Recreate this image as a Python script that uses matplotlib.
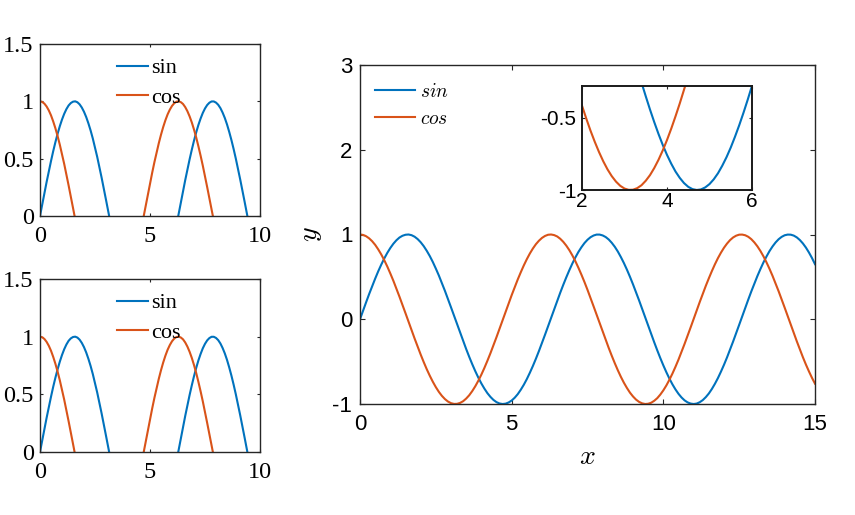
import numpy as np
import matplotlib
matplotlib.use('Agg')
import matplotlib.pyplot as plt

plt.rcParams['mathtext.fontset'] = 'cm'
plt.rcParams['axes.unicode_minus'] = False

# curves, x from 0 to 15 in steps of 0.1
x = [round(i * 0.1, 1) for i in range(151)]
y_sin = [0.000, 0.100, 0.199, 0.296, 0.389, 0.479, 0.565, 0.644, 0.717, 0.783,
         0.841, 0.891, 0.932, 0.964, 0.985, 0.997, 1.000, 0.992, 0.974, 0.946,
         0.909, 0.863, 0.808, 0.746, 0.676, 0.598, 0.516, 0.427, 0.335, 0.239,
         0.141, 0.042, -0.058, -0.158, -0.256, -0.351, -0.443, -0.530, -0.612, -0.688,
         -0.757, -0.818, -0.872, -0.916, -0.952, -0.978, -0.994, -1.000, -0.996, -0.982,
         -0.959, -0.926, -0.884, -0.832, -0.773, -0.706, -0.631, -0.551, -0.465, -0.374,
         -0.279, -0.182, -0.083, 0.017, 0.117, 0.215, 0.312, 0.405, 0.494, 0.578,
         0.657, 0.729, 0.794, 0.850, 0.899, 0.938, 0.968, 0.988, 0.999, 0.999,
         0.989, 0.970, 0.941, 0.902, 0.855, 0.799, 0.734, 0.663, 0.585, 0.501,
         0.412, 0.319, 0.223, 0.125, 0.025, -0.075, -0.174, -0.272, -0.367, -0.458,
         -0.544, -0.625, -0.700, -0.768, -0.828, -0.880, -0.923, -0.957, -0.981, -0.995,
         -1.000, -0.995, -0.979, -0.954, -0.919, -0.876, -0.823, -0.762, -0.694, -0.618,
         -0.537, -0.450, -0.358, -0.263, -0.166, -0.066, 0.034, 0.133, 0.232, 0.328,
         0.420, 0.509, 0.592, 0.670, 0.740, 0.804, 0.859, 0.906, 0.944, 0.972,
         0.991, 0.999, 0.998, 0.987, 0.966, 0.935, 0.895, 0.846, 0.788, 0.723, 0.650]
y_cos = [1.000, 0.995, 0.980, 0.955, 0.921, 0.878, 0.825, 0.765, 0.697, 0.622,
         0.540, 0.454, 0.362, 0.267, 0.170, 0.071, -0.029, -0.129, -0.227, -0.323,
         -0.416, -0.505, -0.589, -0.666, -0.737, -0.801, -0.857, -0.904, -0.942, -0.971,
         -0.990, -0.999, -0.998, -0.987, -0.967, -0.936, -0.897, -0.848, -0.791, -0.726,
         -0.654, -0.575, -0.490, -0.401, -0.307, -0.211, -0.112, -0.012, 0.087, 0.187,
         0.284, 0.378, 0.469, 0.554, 0.635, 0.709, 0.776, 0.835, 0.886, 0.927,
         0.960, 0.983, 0.997, 1.000, 0.993, 0.977, 0.950, 0.914, 0.869, 0.816,
         0.754, 0.685, 0.608, 0.526, 0.439, 0.347, 0.251, 0.153, 0.054, -0.046,
         -0.146, -0.244, -0.339, -0.431, -0.519, -0.602, -0.679, -0.749, -0.811, -0.866,
         -0.911, -0.948, -0.975, -0.992, -1.000, -0.997, -0.985, -0.962, -0.931, -0.889,
         -0.839, -0.781, -0.714, -0.641, -0.561, -0.476, -0.385, -0.291, -0.194, -0.096,
         0.004, 0.104, 0.203, 0.300, 0.394, 0.483, 0.568, 0.648, 0.721, 0.786,
         0.844, 0.893, 0.934, 0.965, 0.986, 0.998, 0.999, 0.991, 0.973, 0.945,
         0.907, 0.861, 0.806, 0.743, 0.672, 0.595, 0.512, 0.423, 0.331, 0.235,
         0.137, 0.037, -0.063, -0.162, -0.260, -0.355, -0.447, -0.534, -0.615, -0.691, -0.760]

c_sin = '#0072BD'
c_cos = '#D95319'
lw = 1.5
axcol = '#262626'

W, H = 855, 515
fig = plt.figure(figsize=(W / 100, H / 100), dpi=100)

def ax_rect(l, t, r, b):
    return [l / W, (H - b) / H, (r - l) / W, (b - t) / H]

def style(ax, size, family, tlen, xpad, ypad):
    ax.tick_params(direction='in', top=True, right=True, length=tlen,
                   width=0.8, colors=axcol, labelsize=size)
    ax.tick_params(axis='x', pad=xpad)
    ax.tick_params(axis='y', pad=ypad)
    for lab in ax.get_xticklabels() + ax.get_yticklabels():
        lab.set_family(family)
        lab.set_color('black')
    for s in ax.spines.values():
        s.set_color(axcol)
        s.set_linewidth(1.0)

# two small left plots
for rect in [(40, 44, 260, 216), (40, 279, 260, 452)]:
    ax = fig.add_axes(ax_rect(*rect))
    ax.plot(x, y_sin, color=c_sin, lw=lw, label='sin')
    ax.plot(x, y_cos, color=c_cos, lw=lw, label='cos')
    ax.set_xlim(0, 10)
    ax.set_ylim(0, 1.5)
    ax.set_xticks([0, 5, 10])
    ax.set_yticks([0, 0.5, 1, 1.5])
    ax.set_yticklabels(['0', '0.5', '1', '1.5'])
    style(ax, 17.5, 'Liberation Serif', 2.5, 7, 4.5)
    ax.legend(loc='upper left', bbox_to_anchor=(0.35, 0.92), frameon=False,
              prop={'family': 'Liberation Serif', 'size': 16},
              handlelength=1.4, handletextpad=0.15, labelspacing=0.4,
              borderpad=0, borderaxespad=0)

# main plot
ax = fig.add_axes(ax_rect(360, 65, 815, 404))
ax.plot(x, y_sin, color=c_sin, lw=lw, label='$sin$')
ax.plot(x, y_cos, color=c_cos, lw=lw, label='$cos$')
ax.set_xlim(0, 15)
ax.set_ylim(-1, 3)
ax.set_xticks([0, 5, 10, 15])
ax.set_yticks([-1, 0, 1, 2, 3])
style(ax, 16, 'Liberation Sans', 3.5, 7, 5.5)
ax.set_xlabel('$x$', fontsize=20)
ax.set_ylabel('$y$', fontsize=20)
ax.xaxis.set_label_coords(0.5, -0.112)
ax.yaxis.set_label_coords(-0.08, 0.5)
ax.legend(loc='upper left', bbox_to_anchor=(0.033, 0.95), frameon=False,
          fontsize=14, handlelength=2.05, handletextpad=0.25,
          labelspacing=0.4, borderpad=0, borderaxespad=0)

# inset
axi = fig.add_axes(ax_rect(582, 86, 752, 190))
axi.plot(x, y_sin, color=c_sin, lw=lw)
axi.plot(x, y_cos, color=c_cos, lw=lw)
axi.set_xlim(2, 6)
axi.set_ylim(-1, -0.28)
axi.set_xticks([2, 4, 6])
axi.set_yticks([-1, -0.5])
axi.set_yticklabels(['-1', '-0.5'])
style(axi, 15, 'Liberation Sans', 2, 1.5, 4)
for s in axi.spines.values():
    s.set_linewidth(1.4)
    s.set_color('#1a1a1a')

fig.savefig('out.png', dpi=100)
